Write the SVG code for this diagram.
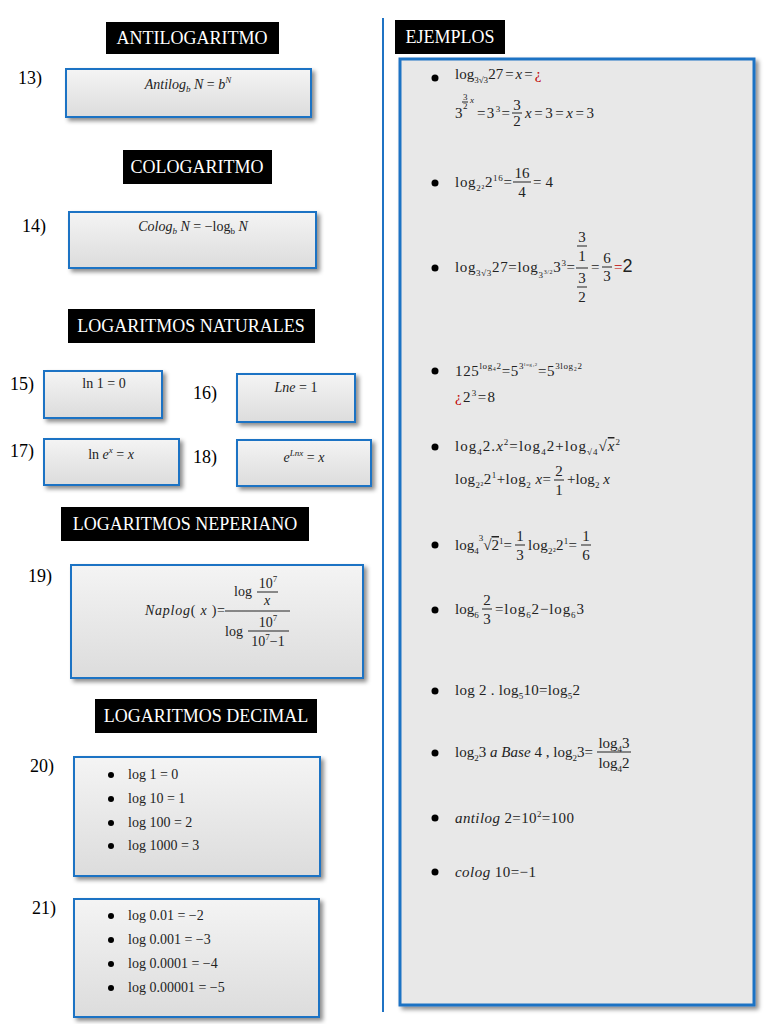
<svg xmlns="http://www.w3.org/2000/svg" width="768" height="1024" viewBox="0 0 768 1024">
<defs>
<linearGradient id="g" x1="0" y1="0" x2="0" y2="1"><stop offset="0" stop-color="#f4f4f4"/><stop offset="1" stop-color="#dcdcdc"/></linearGradient>
<filter id="sh" x="-10%" y="-10%" width="130%" height="130%"><feDropShadow dx="3" dy="3" stdDeviation="2" flood-color="#000" flood-opacity="0.45"/></filter>
</defs>
<style>
.box{fill:url(#g);stroke:#1f73c4;stroke-width:2;filter:url(#sh)}
.hd{fill:#000}
.ht{fill:#fff;font-family:"Liberation Serif",serif;font-size:18px;text-anchor:middle}
.num{font-family:"Liberation Serif",serif;font-size:18px;fill:#000}
.m{font-family:"Liberation Serif",serif;font-size:14px;fill:#222}
.w{font-size:15px}
.c{text-anchor:middle}
.i{font-style:italic}
.s{font-size:9px}
.r{fill:#c00000}
.fl{stroke:#222;stroke-width:1}
</style>
<rect width="768" height="1024" fill="#fff"/>
<g id="h-antilog"><rect class="hd" x="106" y="22" width="173" height="32"/><text class="ht" x="192" y="44">ANTILOGARITMO</text></g>
<g id="n13"><text class="num" x="18" y="84">13)</text><rect class="box" x="66" y="69" width="245" height="48"/>
<text class="m c" x="188" y="89"><tspan class="i">Antilog</tspan><tspan class="s i" dy="3">b</tspan><tspan dy="-3" class="i"> N</tspan> = <tspan class="i">b</tspan><tspan class="s i" dy="-6">N</tspan></text></g>
<g id="h-colog"><rect class="hd" x="123" y="150" width="149" height="34"/><text class="ht" x="197" y="173">COLOGARITMO</text></g>
<g id="n14"><text class="num" x="22" y="232">14)</text><rect class="box" x="69" y="212" width="247" height="56"/>
<text class="m c" x="193" y="231"><tspan class="i">Colog</tspan><tspan class="s i" dy="3">b</tspan><tspan dy="-3" class="i"> N</tspan> = −log<tspan class="s" dy="3">b</tspan><tspan dy="-3" class="i"> N</tspan></text></g>
<g id="h-nat"><rect class="hd" x="68" y="309" width="247" height="34"/><text class="ht" x="191" y="332">LOGARITMOS NATURALES</text></g>
<g id="n15"><text class="num" x="10" y="390">15)</text><rect class="box" x="44" y="371" width="118" height="47"/><text class="m c" x="104" y="388">ln 1 = 0</text></g>
<g id="n16"><text class="num" x="193" y="399">16)</text><rect class="box" x="237" y="374" width="118" height="48"/><text class="m c" x="296" y="392"><tspan class="i">Lne</tspan> = 1</text></g>
<g id="n17"><text class="num" x="10" y="457">17)</text><rect class="box" x="44" y="439" width="135" height="46"/><text class="m c" x="111" y="459">ln <tspan class="i">e</tspan><tspan class="s i" dy="-6">x</tspan><tspan dy="6"> = </tspan><tspan class="i">x</tspan></text></g>
<g id="n18"><text class="num" x="193" y="463">18)</text><rect class="box" x="237" y="440" width="134" height="46"/><text class="m c" x="304" y="462"><tspan class="i">e</tspan><tspan class="s i" dy="-6">Lnx</tspan><tspan dy="6"> = </tspan><tspan class="i">x</tspan></text></g>
<g id="h-nep"><rect class="hd" x="61" y="507" width="248" height="34"/><text class="ht" x="185" y="530">LOGARITMOS NEPERIANO</text></g>
<g id="n19"><text class="num" x="28" y="582">19)</text><rect class="box" x="71" y="565" width="292" height="113"/>
<text class="m" x="145" y="615" textLength="80" lengthAdjust="spacing"><tspan class="i">Naplog</tspan>( <tspan class="i">x</tspan> )=</text>
<line class="fl" x1="225" y1="611" x2="290" y2="611"/>
<text class="m" x="234" y="596">log</text><text class="m c" x="268" y="588">10<tspan class="s" dy="-6">7</tspan></text><line class="fl" x1="257" y1="592" x2="278" y2="592"/><text class="m c i" x="267" y="605">x</text>
<text class="m" x="225" y="636">log</text><text class="m c" x="268" y="627">10<tspan class="s" dy="-6">7</tspan></text><line class="fl" x1="248" y1="631" x2="289" y2="631"/><text class="m c" x="268" y="646">10<tspan class="s" dy="-6">7</tspan><tspan dy="6">−1</tspan></text></g>
<g id="h-dec"><rect class="hd" x="95" y="699" width="222" height="34"/><text class="ht" x="206" y="722">LOGARITMOS DECIMAL</text></g>
<g id="n20"><text class="num" x="30" y="772">20)</text><rect class="box" x="74" y="757" width="246" height="119"/>
<g><circle cx="111" cy="775" r="3"/><text class="m" x="128" y="779">log 1 = 0</text>
<circle cx="111" cy="799" r="3"/><text class="m" x="128" y="803">log 10 = 1</text>
<circle cx="111" cy="823" r="3"/><text class="m" x="128" y="827">log 100 = 2</text>
<circle cx="111" cy="846" r="3"/><text class="m" x="128" y="850">log 1000 = 3</text></g></g>
<g id="n21"><text class="num" x="32" y="914">21)</text><rect class="box" x="74" y="899" width="245" height="118"/>
<g><circle cx="111" cy="916" r="3"/><text class="m" x="128" y="920">log 0.01 = −2</text>
<circle cx="111" cy="940" r="3"/><text class="m" x="128" y="944">log 0.001 = −3</text>
<circle cx="111" cy="964" r="3"/><text class="m" x="128" y="968">log 0.0001 = −4</text>
<circle cx="111" cy="988" r="3"/><text class="m" x="128" y="992">log 0.00001 = −5</text></g></g>
<g id="divider"><line x1="383" y1="18" x2="383" y2="1012" stroke="#1f73c4" stroke-width="2"/></g>
<g id="h-ej"><rect class="hd" x="395" y="20" width="110" height="34"/><text class="ht" x="450" y="43">EJEMPLOS</text></g>
<g id="ejemplos">
<rect x="400" y="59" width="354" height="946" fill="#e8e8e8" stroke="#1f73c4" stroke-width="3" filter="url(#sh)"/>
<g fill="#000"><circle cx="435" cy="78" r="3.5"/><circle cx="435" cy="183" r="3.5"/><circle cx="435" cy="268" r="3.5"/><circle cx="435" cy="371" r="3.5"/><circle cx="435" cy="447" r="3.5"/><circle cx="435" cy="545" r="3.5"/><circle cx="435" cy="610" r="3.5"/><circle cx="435" cy="691" r="3.5"/><circle cx="435" cy="753" r="3.5"/><circle cx="435" cy="818" r="3.5"/><circle cx="435" cy="872" r="3.5"/></g>
<text class="m w" x="455" y="79">log<tspan class="s" dy="4">3√3</tspan><tspan dy="-4">27</tspan><tspan dx="2">=</tspan><tspan class="i" dx="2">x</tspan><tspan dx="2">=</tspan><tspan class="r" dx="2">¿</tspan></text>
<text class="m w" x="455" y="118">3</text><text class="m s" x="463" y="100">3</text><line class="fl" x1="462" y1="102" x2="468" y2="102"/><text class="m s" x="463" y="109">2</text><text class="m s i" x="470" y="103">x</text>
<text class="m w" x="477" y="118" textLength="33" lengthAdjust="spacing">=3<tspan class="s" dy="-6">3</tspan><tspan dy="6">=</tspan></text>
<text class="m w c" x="517" y="110">3</text><line class="fl" x1="512" y1="113" x2="522" y2="113"/><text class="m w c" x="517" y="126">2</text>
<text class="m w" x="525" y="118" textLength="69" lengthAdjust="spacing"><tspan class="i">x</tspan>=3=<tspan class="i">x</tspan>=3</text>
<text class="m w" x="455" y="187" textLength="57" lengthAdjust="spacing">log<tspan class="s" dy="4">2²</tspan><tspan dy="-4">2</tspan><tspan class="s" dy="-6">16</tspan><tspan dy="6">=</tspan></text>
<text class="m w c" x="522" y="178">16</text><line class="fl" x1="513" y1="182" x2="531" y2="182"/><text class="m w c" x="522" y="197">4</text>
<text class="m w" x="533" y="187" textLength="20" lengthAdjust="spacing">=4</text>
<text class="m w" x="455" y="272" textLength="120" lengthAdjust="spacing">log<tspan class="s" dy="4">3√3</tspan><tspan dy="-4">27=log</tspan><tspan class="s" dy="6">3</tspan><tspan font-size="6" dy="-4">3/2</tspan><tspan dy="-2">3</tspan><tspan class="s" dy="-6">3</tspan><tspan dy="6">=</tspan></text>
<text class="m w c" x="582" y="242">3</text><line class="fl" x1="577" y1="246" x2="587" y2="246"/><text class="m w c" x="582" y="261">1</text>
<line class="fl" x1="576" y1="268" x2="588" y2="268"/>
<text class="m w c" x="582" y="283">3</text><line class="fl" x1="577" y1="287" x2="587" y2="287"/><text class="m w c" x="582" y="302">2</text>
<text class="m w" x="591" y="272">=</text><text class="m w c" x="607" y="263">6</text><line class="fl" x1="602" y1="267" x2="612" y2="267"/><text class="m w c" x="607" y="281">3</text>
<text class="m w" x="614" y="272"><tspan class="r">=</tspan><tspan font-family="Liberation Sans,sans-serif" font-size="18">2</tspan></text>
<text class="m w" x="455" y="376" textLength="127" lengthAdjust="spacing">125<tspan class="s" dy="-7">log₄2</tspan><tspan dy="7">=5</tspan><tspan class="s" dy="-7">3</tspan><tspan font-size="5" dy="-3">log₄2</tspan><tspan dy="10">=5</tspan><tspan class="s" dy="-7">3log₂2</tspan></text>
<text class="m w" x="455" y="402" textLength="40" lengthAdjust="spacing"><tspan class="r">¿</tspan>2<tspan class="s" dy="-6">3</tspan><tspan dy="6">=8</tspan></text>
<text class="m w" x="455" y="451" textLength="165" lengthAdjust="spacing">log<tspan class="s" dy="4">4</tspan><tspan dy="-4">2.</tspan><tspan class="i">x</tspan><tspan class="s" dy="-6">2</tspan><tspan dy="6">=log</tspan><tspan class="s" dy="4">4</tspan><tspan dy="-4">2+log</tspan><tspan class="s" dy="4">√4</tspan><tspan dy="-4">√</tspan><tspan class="i" text-decoration="overline">x</tspan><tspan class="s" dy="-6">2</tspan></text>
<text class="m w" x="455" y="484" textLength="96" lengthAdjust="spacing">log<tspan class="s" dy="4">2²</tspan><tspan dy="-4">2</tspan><tspan class="s" dy="-6">1</tspan><tspan dy="6">+log</tspan><tspan class="s" dy="4">2</tspan><tspan class="i" dy="-4"> x</tspan>=</text>
<text class="m w c" x="559" y="476">2</text><line class="fl" x1="554" y1="480" x2="564" y2="480"/><text class="m w c" x="559" y="495">1</text>
<text class="m w" x="567" y="484" textLength="43" lengthAdjust="spacing">+log<tspan class="s" dy="4">2</tspan><tspan class="i" dy="-4"> x</tspan></text>
<text class="m w" x="455" y="550" textLength="57" lengthAdjust="spacing">log<tspan class="s" dy="4">4</tspan><tspan class="s" dy="-13">3</tspan><tspan dy="9">√</tspan><tspan text-decoration="overline">2</tspan><tspan class="s" dy="-6">1</tspan><tspan dy="6">=</tspan></text>
<text class="m w c" x="520" y="541">1</text><line class="fl" x1="515" y1="545" x2="525" y2="545"/><text class="m w c" x="520" y="560">3</text>
<text class="m w" x="528" y="550" textLength="49" lengthAdjust="spacing">log<tspan class="s" dy="4">2²</tspan><tspan dy="-4">2</tspan><tspan class="s" dy="-6">1</tspan><tspan dy="6">=</tspan></text>
<text class="m w c" x="586" y="541">1</text><line class="fl" x1="581" y1="545" x2="591" y2="545"/><text class="m w c" x="586" y="560">6</text>
<text class="m w" x="455" y="614">log<tspan class="s" dy="4">6</tspan></text>
<text class="m w c" x="487" y="605">2</text><line class="fl" x1="482" y1="609" x2="492" y2="609"/><text class="m w c" x="487" y="624">3</text>
<text class="m w" x="495" y="614" textLength="89" lengthAdjust="spacing">=log<tspan class="s" dy="4">6</tspan><tspan dy="-4">2−log</tspan><tspan class="s" dy="4">6</tspan><tspan dy="-4">3</tspan></text>
<text class="m w" x="455" y="695" textLength="125" lengthAdjust="spacing">log 2 . log<tspan class="s" dy="4">5</tspan><tspan dy="-4">10=log</tspan><tspan class="s" dy="4">5</tspan><tspan dy="-4">2</tspan></text>
<text class="m w" x="455" y="757" textLength="138" lengthAdjust="spacing">log<tspan class="s" dy="4">2</tspan><tspan dy="-4">3 </tspan><tspan class="i">a Base</tspan> 4 , log<tspan class="s" dy="4">2</tspan><tspan dy="-4">3=</tspan></text>
<text class="m w c" x="614" y="748">log<tspan class="s" dy="4">4</tspan><tspan dy="-4">3</tspan></text><line class="fl" x1="597" y1="752" x2="631" y2="752"/><text class="m w c" x="614" y="768">log<tspan class="s" dy="4">4</tspan><tspan dy="-4">2</tspan></text>
<text class="m w" x="455" y="823" textLength="119" lengthAdjust="spacing"><tspan class="i">antilog</tspan> 2=10<tspan class="s" dy="-6">2</tspan><tspan dy="6">=100</tspan></text>
<text class="m w" x="455" y="877" textLength="81" lengthAdjust="spacing"><tspan class="i">colog</tspan> 10=−1</text>
</g>
</svg>
